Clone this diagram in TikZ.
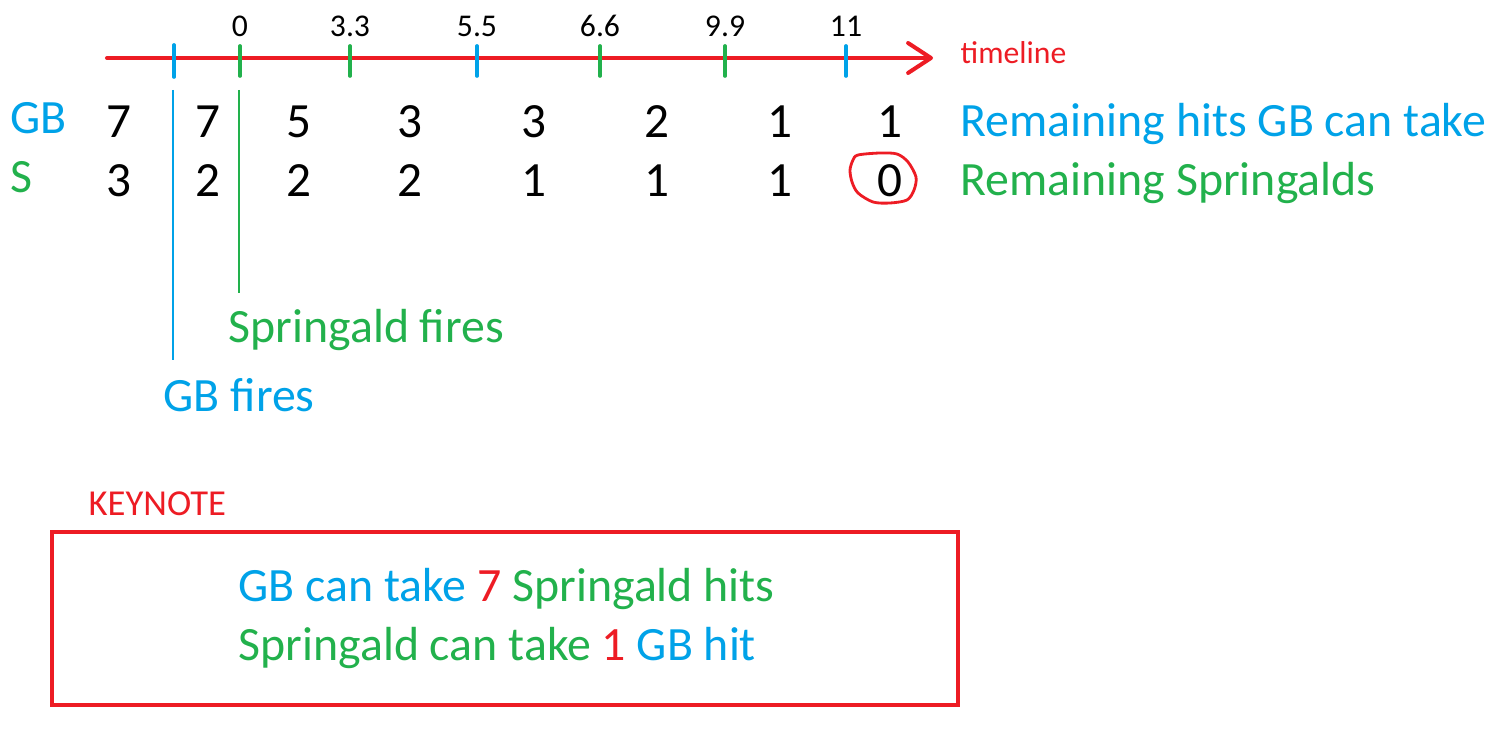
\documentclass[tikz,border=0pt]{standalone}
\usepackage{fontspec}
\setmainfont{Carlito}
\usetikzlibrary{arrows.meta}

\definecolor{gbblue}{RGB}{0,162,232}
\definecolor{sgreen}{RGB}{34,177,76}
\definecolor{tred}{RGB}{237,28,36}

\tikzset{
  num/.style={inner sep=0pt, anchor=base, font=\fontsize{14}{16}\selectfont},
  lbl/.style={inner sep=0pt, anchor=base west, font=\fontsize{13.6}{16}\selectfont},
  tickmark/.style={line width=1.05pt, line cap=round},
  ticklbl/.style={inner sep=0pt, anchor=base, font=\fontsize{9}{11}\selectfont},
}

\begin{document}
\begin{tikzpicture}[x=0.01cm, y=-0.01cm]
  \useasboundingbox (0,0) rectangle (1495,749);

  % timeline
  \coordinate (tstart) at (107,58);
  \coordinate (tend) at (933,58);
  \draw[tred, line width=1.15pt, line cap=round, -{Straight Barb[length=6.5pt,width=8.5pt,round]}] (tstart) -- (tend);
  \node[inner sep=0pt, anchor=base west, text=tred, font=\fontsize{9}{11}\selectfont] (tlabel) at (960,64) {timeline};

  % ticks
  \draw[tickmark, gbblue] (174,45) -- (174,77);
  \foreach \x/\c/\t in {240/sgreen/0, 350/sgreen/3.3, 477/gbblue/5.5, 600/sgreen/6.6, 725/sgreen/9.9, 846/gbblue/11} {
    \draw[tickmark, \c] (\x,46) -- (\x,76);
    \node[ticklbl] (t\x) at (\x,37) {\t};
  }

  % rows
  \node[lbl, text=gbblue] (gbrow) at (10,134) {GB};
  \node[lbl, text=sgreen] (srow) at (10,193) {S};
  \foreach \x/\g/\s [count=\i] in {119/7/3, 208/7/2, 299/5/2, 410/3/2, 534/3/1, 657/2/1, 780/1/1, 890/1/0} {
    \node[num] (gb\i) at (\x,138) {\g};
    \node[num] (s\i) at (\x,197) {\s};
  }
  \node[lbl, text=gbblue] (gbtext) at (960,137) {Remaining hits GB can take};
  \node[lbl, text=sgreen] (stext) at (960,196) {Remaining Springalds};
  % hand drawn ring round the last 0
  \draw[tred, line width=0.8pt] plot[smooth cycle] coordinates {(858,155) (880,153) (897,154) (908,162) (916,177) (914,190) (907,200) (890,203) (873,202) (858,193) (852,182) (850,170) (853,160)};

  % firing lines
  \coordinate (gbtop) at (173,90);
  \coordinate (gbbot) at (173,360);
  \coordinate (stop) at (239,90);
  \coordinate (sbot) at (239,293);
  \draw[gbblue, line width=0.7pt] (gbtop) -- (gbbot);
  \draw[sgreen, line width=0.7pt] (stop) -- (sbot);
  \node[lbl, text=sgreen] (sfires) at (228,342) {Springald fires};
  \node[lbl, text=gbblue] (gbfires) at (163,411) {GB fires};

  % keynote
  \node[inner sep=0pt, anchor=base west, text=tred, font=\fontsize{10.4}{12}\selectfont] (keynote) at (88,515) {KEYNOTE};
  \draw[tred, line width=1.15pt] (52,532) rectangle (958,705);
  \node[lbl] (note1) at (238,601) {\textcolor{gbblue}{GB can take} \textcolor{tred}{7} \textcolor{sgreen}{Springald hits}};
  \node[lbl] (note2) at (238,660) {\textcolor{sgreen}{Springald can take} \textcolor{tred}{1} \textcolor{gbblue}{GB hit}};
\end{tikzpicture}
\end{document}
